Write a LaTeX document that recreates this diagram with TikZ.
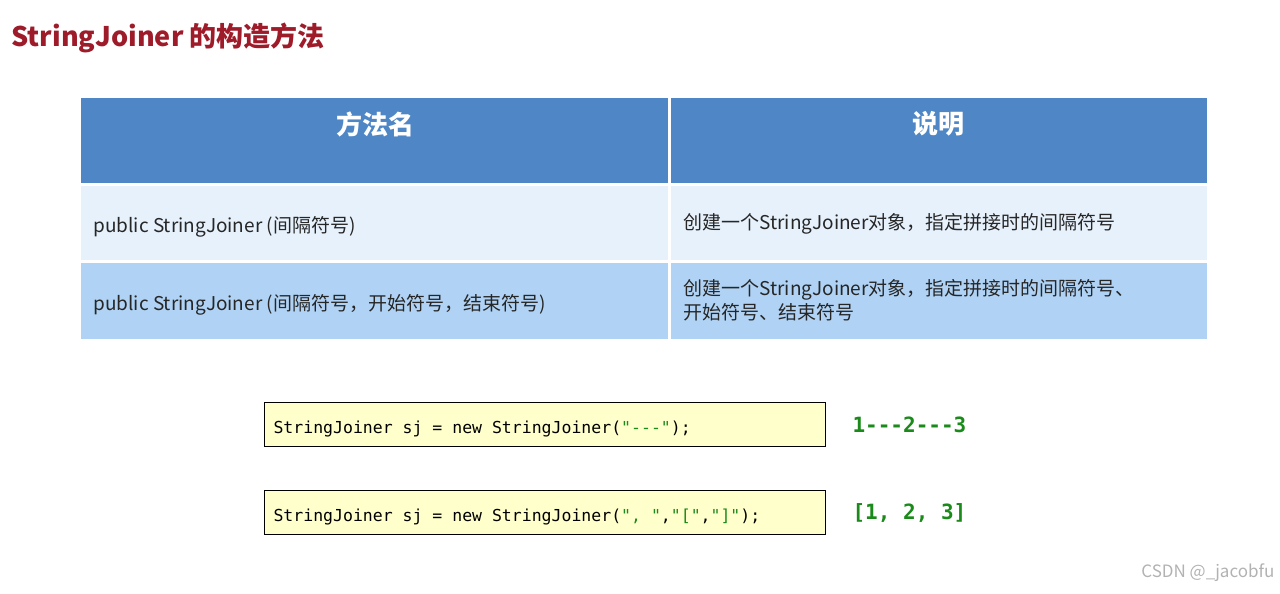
\documentclass[tikz,border=0pt]{standalone}
\usepackage{fontspec}
\setmainfont{Noto Sans CJK SC}
\newfontfamily\codefont{DejaVu Sans Mono}
\definecolor{titlered}{HTML}{9E1B2A}
\definecolor{headblue}{HTML}{4F86C6}
\definecolor{rowa}{HTML}{E6F1FC}
\definecolor{rowb}{HTML}{B0D3F5}
\definecolor{codebg}{HTML}{FFFFCC}
\definecolor{codegreen}{HTML}{1A8A1A}
\tikzset{
  cell/.style={anchor=west,font=\fontsize{19}{24}\selectfont,text=black!85,align=left},
  head/.style={font=\bfseries\fontsize{26}{30}\selectfont,text=white},
  codebox/.style={draw=black,line width=1pt,fill=codebg,minimum width=561pt,minimum height=44pt,anchor=north west,inner sep=0pt},
  code/.style={anchor=west,font=\codefont\fontsize{16.5}{20}\selectfont},
  res/.style={anchor=west,font=\codefont\bfseries\fontsize{21}{24}\selectfont,text=codegreen}
}
\begin{document}
\begin{tikzpicture}[x=1pt,y=-1pt]
\useasboundingbox (0,0) rectangle (1280,594);
\node[anchor=west,font=\bfseries\fontsize{27}{30}\selectfont,text=titlered] (title) at (8,38) {StringJoiner 的构造方法};
% table
\fill[headblue] (81,98) rectangle (668,183);
\fill[headblue] (671,98) rectangle (1207,183);
\fill[rowa] (81,186) rectangle (668,260);
\fill[rowa] (671,186) rectangle (1207,260);
\fill[rowb] (81,263) rectangle (668,339);
\fill[rowb] (671,263) rectangle (1207,339);
\node[head] (h1) at (375,124) {方法名};
\node[head] (h2) at (938,124) {说明};
\node[cell] (c11) at (90,227) {public StringJoiner (间隔符号)};
\node[cell] (c12) at (680,224) {创建一个StringJoiner对象，指定拼接时的间隔符号};
\node[cell] (c21) at (90,305) {public StringJoiner (间隔符号，开始符号，结束符号)};
\node[cell] (c22) at (680,300) {创建一个StringJoiner对象，指定拼接时的间隔符号、\\开始符号、结束符号};
% code
\node[codebox] (b1) at (264,402) {};
\node[codebox] (b2) at (264,490) {};
\node[code] (t1) at (270,429) {StringJoiner sj = new StringJoiner(\textcolor{codegreen}{"---"});};
\node[code] (t2) at (270,517) {StringJoiner sj = new StringJoiner(\textcolor{codegreen}{", "},\textcolor{codegreen}{"["},\textcolor{codegreen}{"]"});};
\node[res] (r1) at (849,425) {1---2---3};
\node[res] (r2) at (849,513) {[1, 2, 3]};
\node[anchor=east,font=\fontsize{17}{20}\selectfont,text=black!30] (wm) at (1278,573) {CSDN @\_jacobfu};
\end{tikzpicture}
\end{document}
